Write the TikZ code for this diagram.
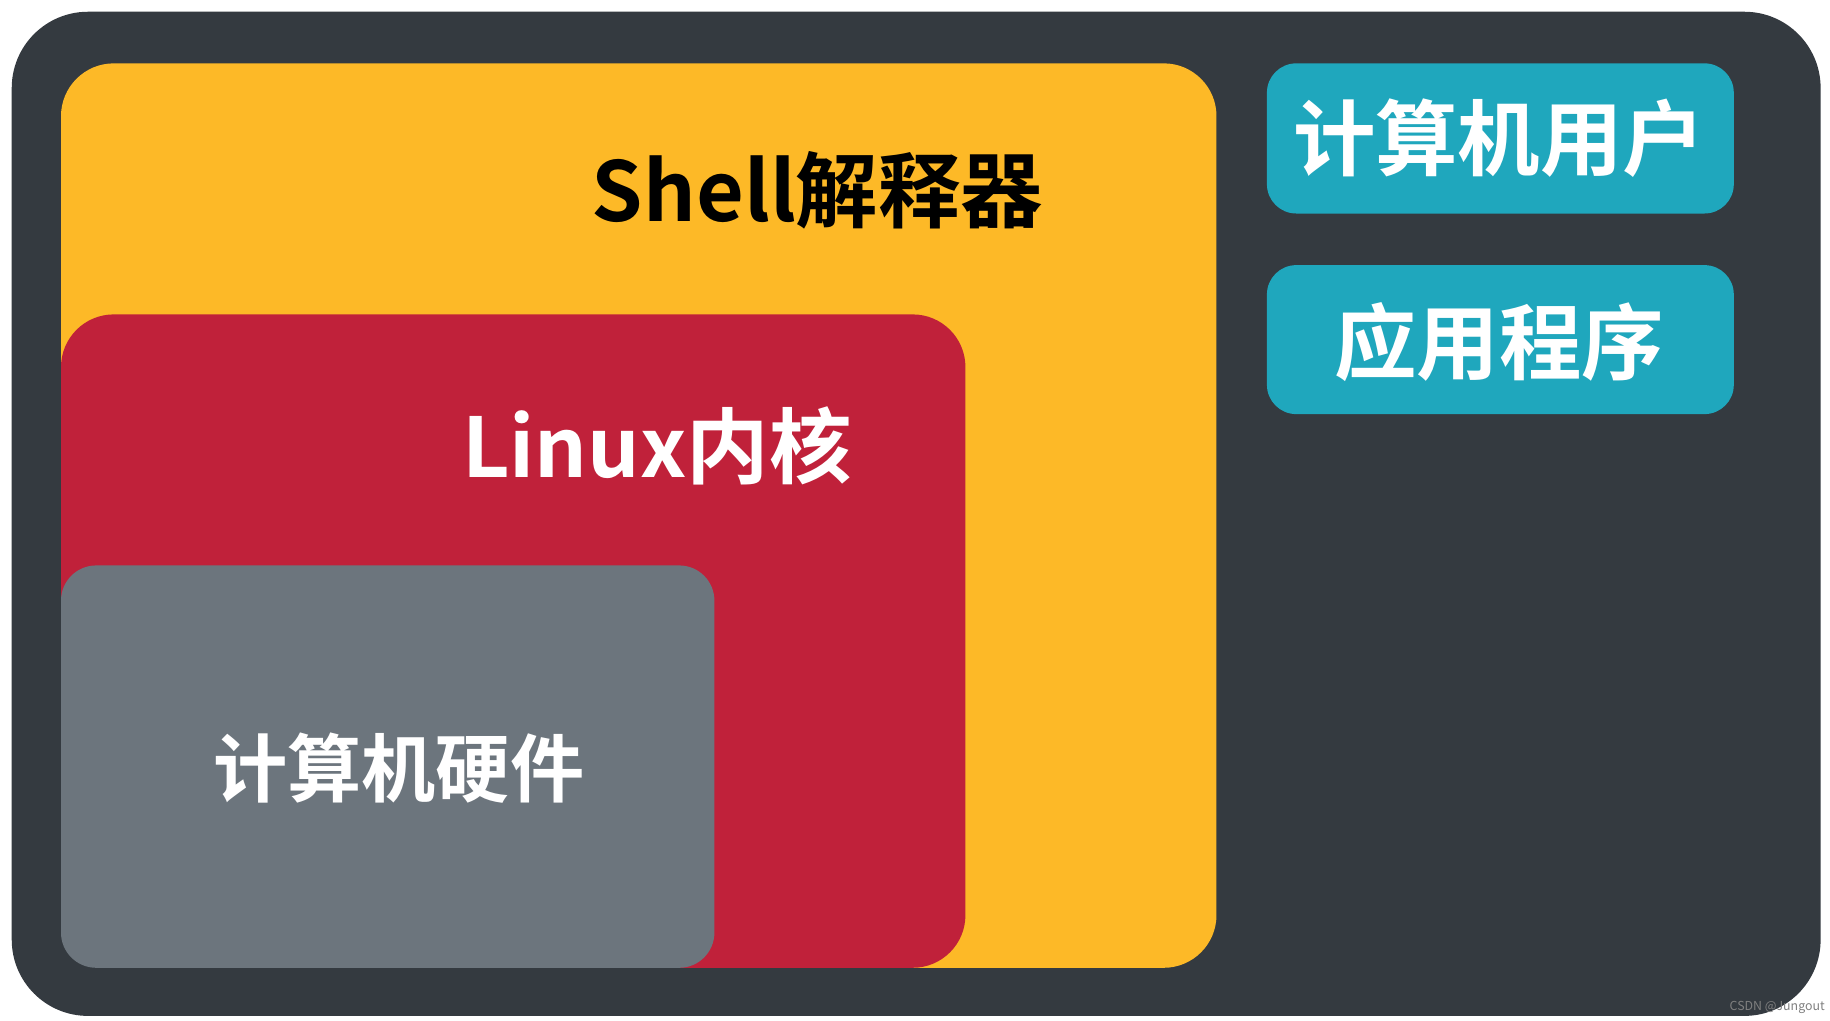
\documentclass[tikz,border=0pt]{standalone}
\usepackage{fontspec}
\setmainfont{Noto Sans CJK SC}[BoldFont={Noto Sans CJK SC Bold}]
\definecolor{dark}{HTML}{343A40}
\definecolor{yel}{HTML}{FDB927}
\definecolor{redc}{HTML}{C0213A}
\definecolor{grey}{HTML}{6C757D}
\definecolor{teal}{HTML}{1FA7BD}
\begin{document}
\begin{tikzpicture}[x=0.02cm,y=-0.02cm,
  lbl/.style={font=\bfseries\fontsize{40}{44}\selectfont,inner sep=0pt}]
\useasboundingbox[fill=white] (0,0) rectangle (1560,870);
\fill[dark,rounded corners=1.3cm] (10,10) rectangle (1552,866);
\fill[yel,rounded corners=0.9cm] (52,54) rectangle (1037,825);
\fill[redc,rounded corners=0.9cm] (52,268) rectangle (823,825);
\fill[grey,rounded corners=0.6cm] (52,482) rectangle (609,825);
\fill[teal,rounded corners=0.5cm] (1080,54) rectangle (1478,182);
\fill[teal,rounded corners=0.5cm] (1080,226) rectangle (1478,353);
\node[lbl,text=black] (shell) at (697,162) {Shell解释器};
\node[lbl,text=white] (kern) at (560,380) {Linux内核};
\node[lbl,text=white,font=\bfseries\fontsize{36}{40}\selectfont] (hw) at (340,655) {计算机硬件};
\node[lbl,text=white] (user) at (1278,118) {计算机用户};
\node[lbl,text=white] (app) at (1278,292) {应用程序};
\node[text=gray,font=\fontsize{6}{7}\selectfont,inner sep=0pt] (wm) at (1515,859) {CSDN @Jungout};
\end{tikzpicture}
\end{document}
